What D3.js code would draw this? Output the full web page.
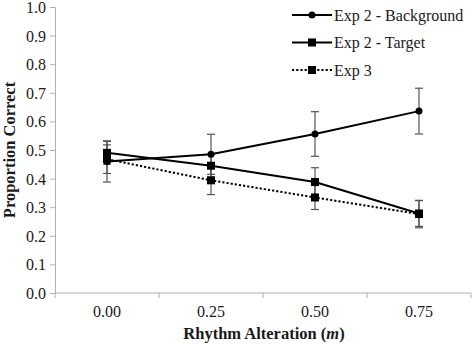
<!DOCTYPE html>
<html>
<head>
<meta charset="utf-8">
<script src="https://cdn.jsdelivr.net/npm/d3@7"></script>
<style>
  html, body { margin: 0; padding: 0; background: #fff; }
  svg { display: block; }
  svg text { font-family: "Liberation Serif", "Times New Roman", serif; fill: #1a1a1a; }
</style>
</head>
<body>
<svg id="chart" width="474" height="344"></svg>
<script>
// values
const categories = ['0.00', '0.25', '0.50', '0.75'];
const yTicks = [0, 0.1, 0.2, 0.3, 0.4, 0.5, 0.6, 0.7, 0.8, 0.9, 1.0];
const bgMean = [0.46, 0.485, 0.556, 0.636];
const bgErr = [0.072, 0.07, 0.078, 0.08];
const tgMean = [0.49, 0.445, 0.388, 0.278];
const tgErr = [0.04, 0.04, 0.05, 0.045];
const e3Mean = [0.468, 0.394, 0.334, 0.276];
const e3Err = [0.05, 0.05, 0.042, 0.048];

const series = [
  { name: 'Exp 2 - Background', mean: bgMean, err: bgErr, marker: 'circle', dash: null },
  { name: 'Exp 2 - Target', mean: tgMean, err: tgErr, marker: 'square', dash: null },
  { name: 'Exp 3', mean: e3Mean, err: e3Err, marker: 'square', dash: '2.2 2' }
];

const svg = d3.select('#chart');
const mL = 55, mR = 471, mT = 7, mB = 293;
const x = d3.scaleBand().domain(categories).range([mL, mR]).padding(0);
const y = d3.scaleLinear().domain([0, 1]).range([mB, mT]);
const cx = c => x(c) + x.bandwidth() / 2;

// y axis
const yAx = svg.append('g').attr('transform', `translate(${mL},0)`)
  .call(d3.axisLeft(y).tickValues(yTicks).tickFormat(d3.format('.1f')).tickSize(5).tickPadding(4));
yAx.attr('font-family', null).attr('font-size', null);
yAx.select('.domain').attr('stroke', '#b0b0b0');
yAx.selectAll('.tick line').attr('stroke', '#b0b0b0');
yAx.selectAll('.tick text').attr('font-size', '16px').attr('fill', null).attr('dy', '0.34em');

// x axis: ticks on category boundaries
const xAx = svg.append('g').attr('transform', `translate(0,${mB})`);
xAx.append('line').attr('x1', mL).attr('x2', mR).attr('stroke', '#b0b0b0');
const edges = [x(categories[0])].concat(categories.map(c => x(c) + x.bandwidth()));
xAx.selectAll('line.tk').data(edges).enter().append('line').attr('class', 'tk')
  .attr('x1', d => d).attr('x2', d => d).attr('y1', 0).attr('y2', 5).attr('stroke', '#b0b0b0');
xAx.selectAll('text').data(categories).enter().append('text')
  .attr('x', cx).attr('y', 24).attr('text-anchor', 'middle')
  .attr('font-size', '16px').text(d => d);

// axis titles
svg.append('text').attr('transform', `translate(15,${(mT + mB) / 2}) rotate(-90)`)
  .attr('text-anchor', 'middle').attr('font-size', '16.5px').attr('font-weight', 'bold')
  .text('Proportion Correct');
const xt = svg.append('text').attr('x', 264).attr('y', 339).attr('text-anchor', 'middle')
  .attr('font-size', '16.5px').attr('font-weight', 'bold');
xt.append('tspan').text('Rhythm Alteration (');
xt.append('tspan').attr('font-style', 'italic').text('m');
xt.append('tspan').text(')');

// series
const line = d3.line().x((d, i) => cx(categories[i])).y(d => y(d));
function drawMarker(g, type, px, py) {
  if (type === 'circle') g.append('circle').attr('cx', px).attr('cy', py).attr('r', 3.5).attr('fill', '#000');
  else g.append('rect').attr('x', px - 4).attr('y', py - 4).attr('width', 8).attr('height', 8).attr('fill', '#000');
}
const gErr = svg.append('g'), gLine = svg.append('g');
series.forEach(s => {
  s.mean.forEach((m, i) => {
    const px = cx(categories[i]), y0 = y(m - s.err[i]), y1 = y(m + s.err[i]);
    gErr.append('line').attr('x1', px).attr('x2', px).attr('y1', y0).attr('y2', y1).attr('stroke', '#555').attr('stroke-width', 1.2);
    [y0, y1].forEach(v => gErr.append('line').attr('x1', px - 4).attr('x2', px + 4).attr('y1', v).attr('y2', v).attr('stroke', '#555').attr('stroke-width', 1.2));
  });
  gLine.append('path').attr('d', line(s.mean)).attr('fill', 'none').attr('stroke', '#000')
    .attr('stroke-width', 2).attr('stroke-dasharray', s.dash);
  s.mean.forEach((m, i) => drawMarker(gLine, s.marker, cx(categories[i]), y(m)));
});

// legend
const lg = svg.append('g');
series.forEach((s, i) => {
  const ly = 15 + i * 27.5;
  lg.append('line').attr('x1', 292).attr('x2', 332).attr('y1', ly).attr('y2', ly)
    .attr('stroke', '#000').attr('stroke-width', 2).attr('stroke-dasharray', s.dash);
  drawMarker(lg, s.marker, 312, ly);
  lg.append('text').attr('x', 334).attr('y', ly + 5.5).attr('font-size', '16px').text(s.name);
});
</script>
</body>
</html>
